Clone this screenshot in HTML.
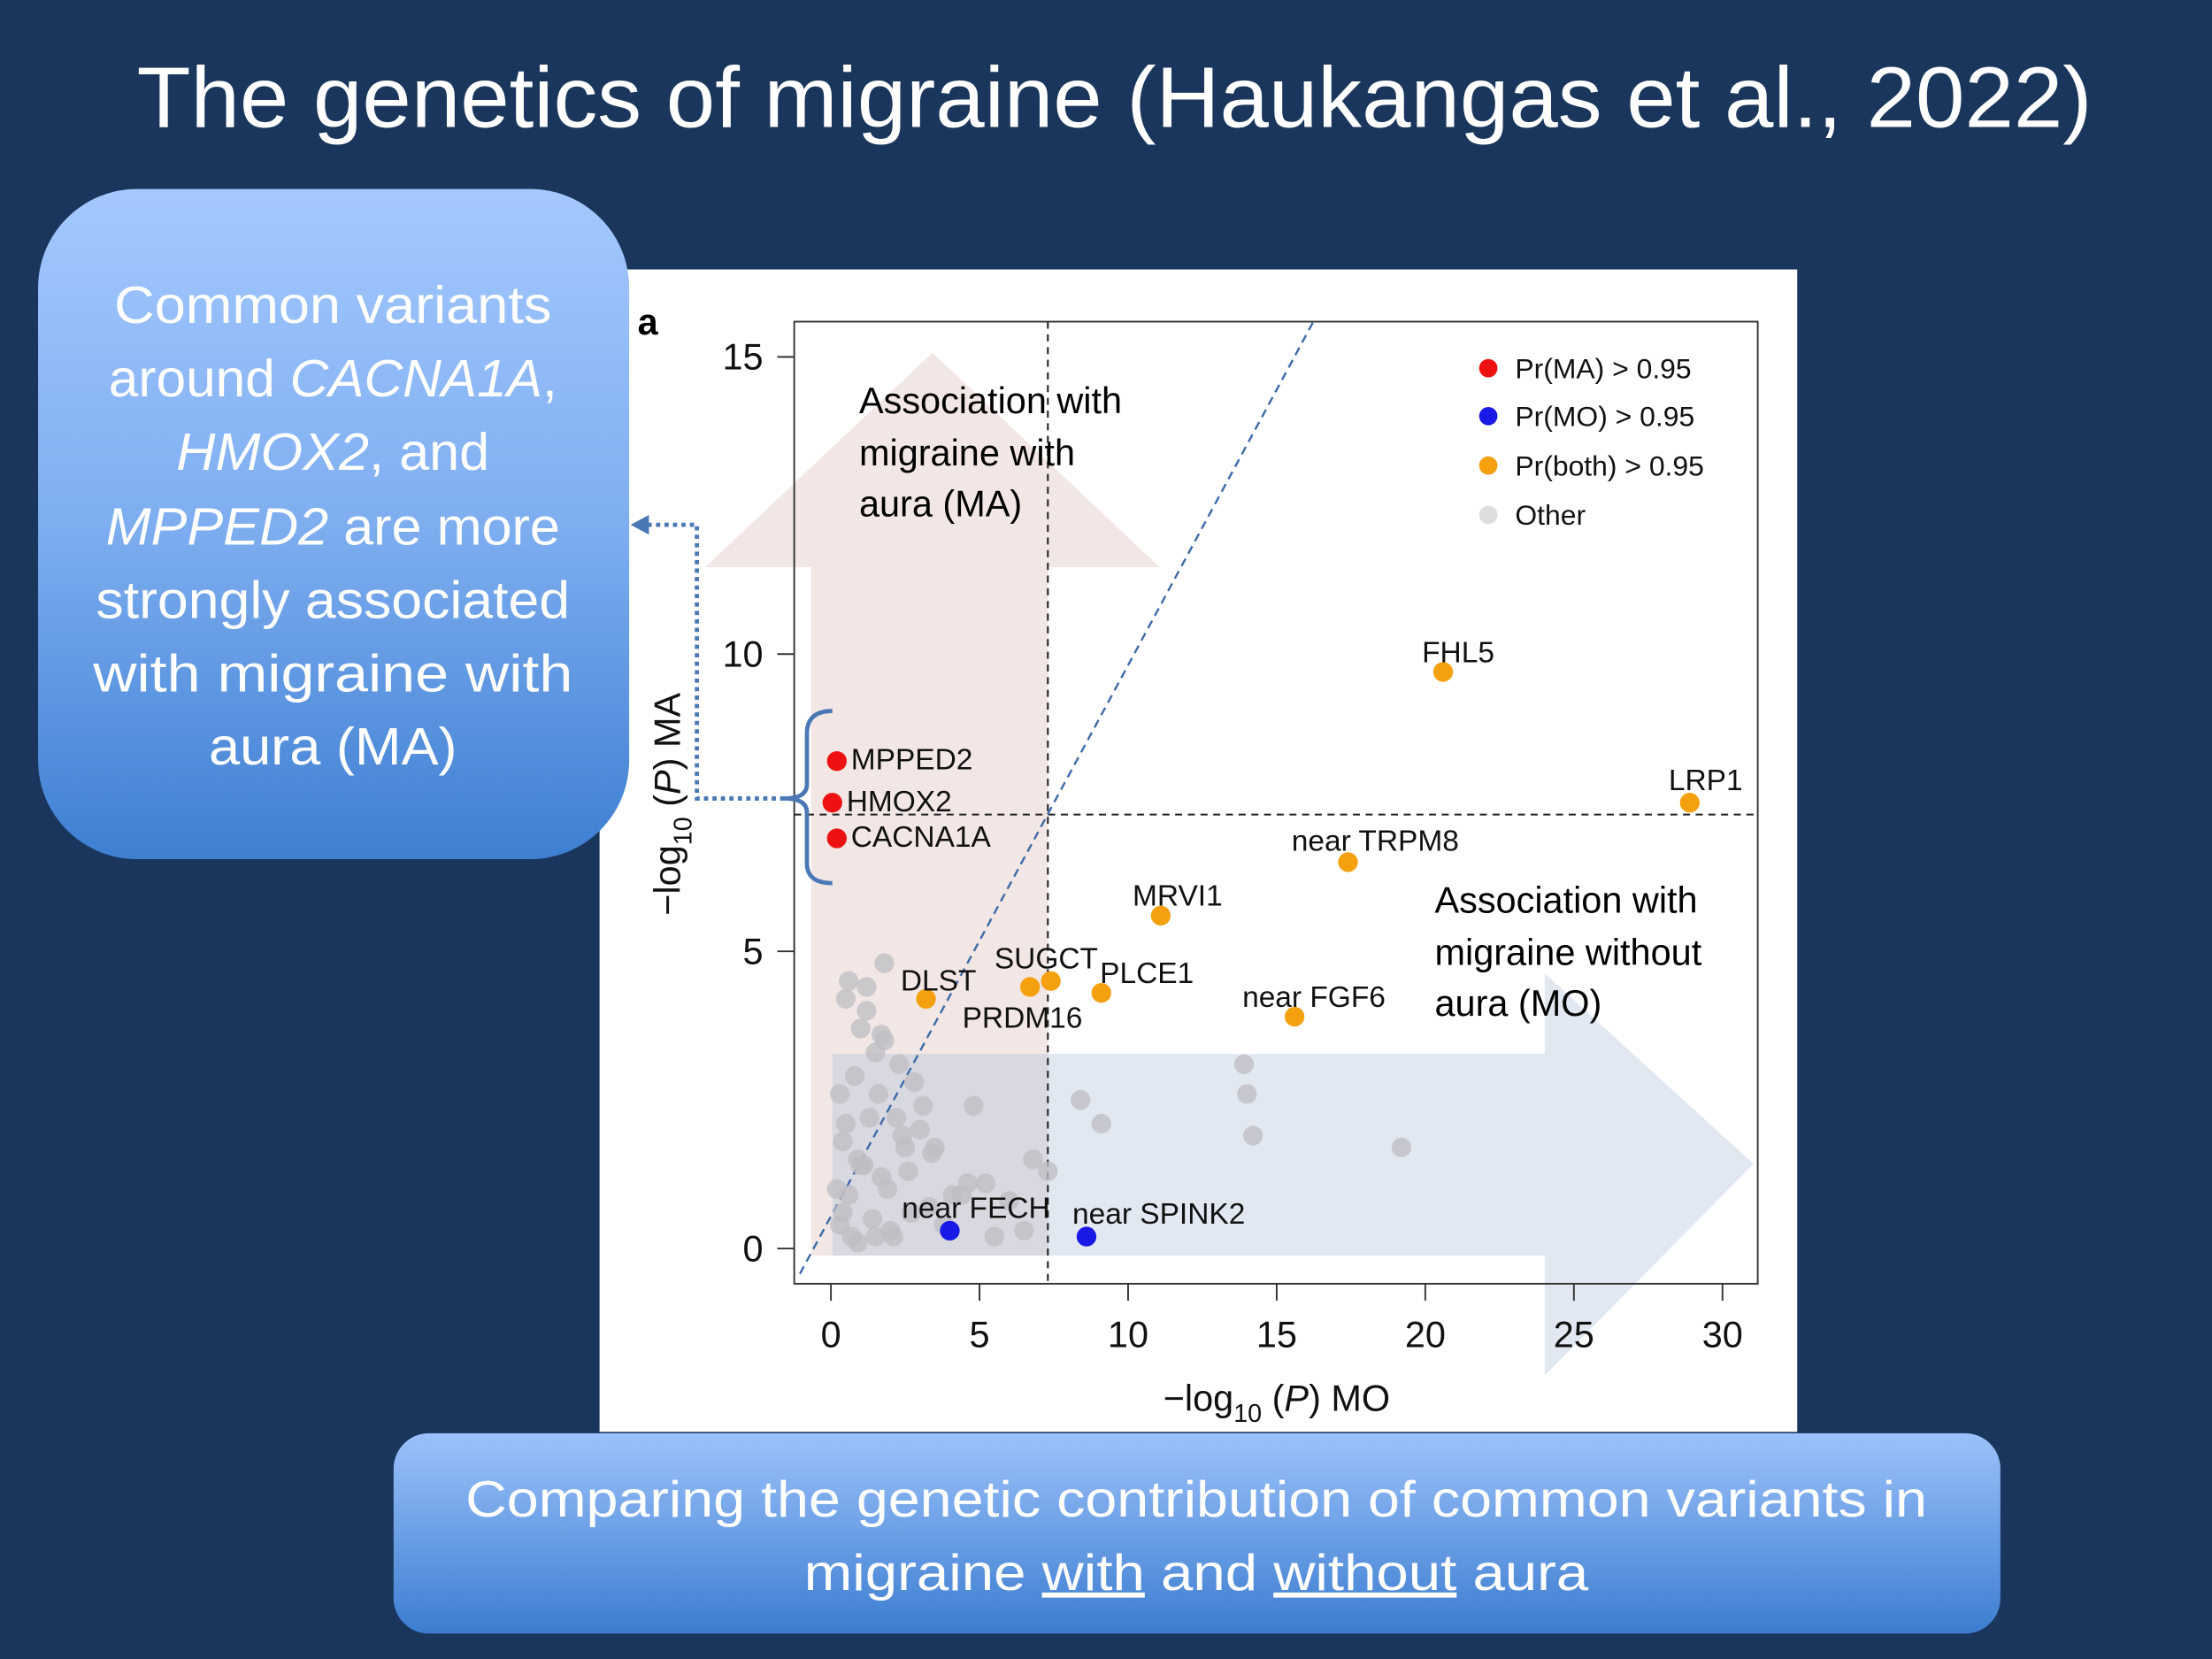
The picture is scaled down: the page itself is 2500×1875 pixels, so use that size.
<!DOCTYPE html>
<html><head><meta charset="utf-8"><style>
html,body{margin:0;padding:0;background:#1a365c;}
svg{display:block}
.t{font-family:"Liberation Sans",sans-serif;}
</style></head><body>
<svg id="s" width="2500" height="1875" viewBox="0 0 1568 1176" xmlns="http://www.w3.org/2000/svg">
<defs>
<linearGradient id="cg" x1="0" y1="0" x2="0" y2="1"><stop offset="0" stop-color="#a4c8ff"/><stop offset="0.5" stop-color="#7eaef0"/><stop offset="1" stop-color="#3e7fd2"/></linearGradient>
<linearGradient id="bg2" x1="0" y1="0" x2="0" y2="1"><stop offset="0" stop-color="#9cc2fb"/><stop offset="1" stop-color="#3c7dd0"/></linearGradient>
</defs>
<rect width="1568" height="1176" fill="#1a365c"/>
<text class="t" x="790" y="90" text-anchor="middle" font-size="61" fill="#fff" textLength="1386" lengthAdjust="spacingAndGlyphs">The genetics of migraine (Haukangas et al., 2022)</text>
<rect x="425" y="191" width="849" height="824" fill="#fff"/>
<text class="t" x="452" y="237" font-size="26" font-weight="bold" fill="#000">a</text>
<g id="arrows">
<path d="M575,890 L575,402 L500,402 L661,250 L822,402 L743,402 L743,890 Z" fill="rgba(205,160,150,0.25)"/>
<path d="M590,747 L1095,747 L1095,690 L1243,825 L1095,975 L1095,890 L590,890 Z" fill="rgba(170,188,215,0.35)"/>
</g>
<rect x="563" y="228" width="683" height="682" fill="none" stroke="#333" stroke-width="1.2"/>
<g id="axes"></g>
<g id="pts"></g>
<g id="legend" class="t" font-size="20" fill="#111">
<circle cx="1055" cy="261" r="6.5" fill="#ee1111"/><text x="1074" y="268">Pr(MA) &gt; 0.95</text>
<circle cx="1055" cy="295" r="6.5" fill="#1a1ae6"/><text x="1074" y="302">Pr(MO) &gt; 0.95</text>
<circle cx="1055" cy="330" r="6.5" fill="#f5a00f"/><text x="1074" y="337">Pr(both) &gt; 0.95</text>
<circle cx="1055" cy="365" r="6.5" fill="#dedede"/><text x="1074" y="372">Other</text>
</g>
<g class="t" font-size="26" fill="#000">
<text><tspan x="609" y="293">Association with</tspan><tspan x="609" y="330">migraine with</tspan><tspan x="609" y="366">aura (MA)</tspan></text>
<text><tspan x="1017" y="647">Association with</tspan><tspan x="1017" y="684">migraine without</tspan><tspan x="1017" y="720">aura (MO)</tspan></text>
</g>
<path d="M590,504 Q572,504 572,520 L572,556 Q572,566 556,566 Q572,566 572,576 L572,612 Q572,626 590,626" fill="none" stroke="#4a78b5" stroke-width="3"/>
<path d="M556,566 L494,566 L494,372 L458,372" fill="none" stroke="#4a78b5" stroke-width="3" stroke-dasharray="3,3"/>
<path d="M447,372 L460,365 L460,379 Z" fill="#4a78b5"/>
<rect x="27" y="134" width="419" height="475" rx="70" fill="url(#cg)"/>
<g class="t" font-size="37" fill="#fff" text-anchor="middle">
<text x="236" y="229" textLength="310" lengthAdjust="spacingAndGlyphs">Common variants</text>
<text x="236" y="281" textLength="318" lengthAdjust="spacingAndGlyphs">around <tspan font-style="italic">CACNA1A</tspan>,</text>
<text x="236" y="333" textLength="222" lengthAdjust="spacingAndGlyphs"><tspan font-style="italic">HMOX2</tspan>, and</text>
<text x="236" y="386" textLength="322" lengthAdjust="spacingAndGlyphs"><tspan font-style="italic">MPPED2</tspan> are more</text>
<text x="236" y="438" textLength="336" lengthAdjust="spacingAndGlyphs">strongly associated</text>
<text x="236" y="490" textLength="340" lengthAdjust="spacingAndGlyphs">with  migraine with</text>
<text x="236" y="542" textLength="176" lengthAdjust="spacingAndGlyphs">aura (MA)</text>
</g>
<rect x="279" y="1016" width="1139" height="142" rx="25" fill="url(#bg2)"/>
<g class="t" font-size="36" fill="#fff" text-anchor="middle">
<text x="848" y="1075" textLength="1036" lengthAdjust="spacingAndGlyphs">Comparing the genetic contribution of common variants in</text>
<text x="848" y="1127" textLength="556" lengthAdjust="spacingAndGlyphs">migraine <tspan text-decoration="underline">with</tspan> and <tspan text-decoration="underline">without</tspan> aura</text>
</g>
</svg>
<script>
const xTicks=[0,5,10,15,20,25,30];
const yTicks=[0,5,10,15];
const threshold=7.3;
const grayX=[0.5,1.2,1.8,0.3,0.8,1.5,2.2,2.8,0.4,0.9,1.3,1.7,2.4,3.0,3.5,0.2,0.6,1.1,1.9,2.6,3.3,4.1,4.6,0.3,0.7,1.4,2.0,2.7,3.8,5.2,6.0,0.5,1.0,1.6,2.3,3.1,4.4,5.5,6.5,0.4,0.9,1.5,2.1,3.4,4.8,6.8,7.3,1.0,1.7,2.5,0.6,1.2,8.4,9.1,13.9,14.0,14.2,19.2,1.8];
const grayY=[4.2,4.0,3.5,2.6,2.9,3.3,2.2,2.8,1.8,1.5,2.2,1.2,1.9,2.0,1.7,1.0,0.9,1.4,1.0,1.3,0.7,0.9,1.1,0.4,0.2,0.5,0.3,0.6,0.4,1.1,0.8,2.1,1.4,2.6,3.1,2.4,0.9,0.2,0.3,0.6,0.1,0.2,0.2,1.6,2.4,1.5,1.3,3.7,3.6,1.7,4.5,4.4,2.5,2.1,3.1,2.6,1.9,1.7,4.8];
const sigNames=["MPPED2","HMOX2","CACNA1A","near FECH","near SPINK2","FHL5","LRP1","near TRPM8","MRVI1","near FGF6","PLCE1","SUGCT","PRDM16","DLST"];
const sigX=[0.2,0.05,0.2,4.0,8.6,20.6,28.9,17.4,11.1,15.6,9.1,7.4,6.7,3.2];
const sigY=[8.2,7.5,6.9,0.3,0.2,9.7,7.5,6.5,5.6,3.9,4.3,4.5,4.4,4.2];
const sigClass=["MA","MA","MA","MO","MO","both","both","both","both","both","both","both","both","both"];
const labelDX=[10,10,10,-34,-10,-15,-15,-40,-20,-37,-1,-40,-48,-18];
const labelDY=[-1,-1,-1,-16,-16,-14,-16,-15,-14,-14,-14,-16,22,-13];

const X=v=>589+v*(1221-589)/30, Y=v=>885-v*(885-253)/15;
const NS="http://www.w3.org/2000/svg";
function mk(tag,attrs,parent,txt){const e=document.createElementNS(NS,tag);for(const k in attrs)e.setAttribute(k,attrs[k]);if(txt!==undefined)e.textContent=txt;parent.appendChild(e);return e;}
const ax=document.getElementById('axes'), pts=document.getElementById('pts');
xTicks.forEach(t=>{
  mk('line',{x1:X(t),x2:X(t),y1:910,y2:922,stroke:'#333','stroke-width':1.2},ax);
  const e=mk('text',{x:X(t),y:955,'text-anchor':'middle','font-size':26,'font-family':'Liberation Sans,sans-serif',fill:'#111'},ax,String(t));
  
  
});
yTicks.forEach(t=>{
  mk('line',{x1:551,x2:563,y1:Y(t),y2:Y(t),stroke:'#333','stroke-width':1.2},ax);
  const e=mk('text',{x:541,y:Y(t)+9,'text-anchor':'end','font-size':26,'font-family':'Liberation Sans,sans-serif',fill:'#111'},ax,String(t));
  
  
});
const xt=mk('text',{x:905,y:1000,'text-anchor':'middle','font-size':26,'font-family':'Liberation Sans,sans-serif',fill:'#111'},ax);
xt.innerHTML='\u2212log<tspan font-size="18" dy="8">10</tspan><tspan dy="-8"> (</tspan><tspan font-style="italic">P</tspan>) MO';


const yt=mk('text',{x:0,y:0,transform:'translate(482,570) rotate(-90)','text-anchor':'middle','font-size':26,'font-family':'Liberation Sans,sans-serif',fill:'#111'},ax);
yt.innerHTML='\u2212log<tspan font-size="18" dy="8">10</tspan><tspan dy="-8"> (</tspan><tspan font-style="italic">P</tspan>) MA';


const th=mk('line',{x1:X(threshold),x2:X(threshold),y1:228,y2:910,stroke:'#222','stroke-width':1.3,'stroke-dasharray':'5,4'},ax);


const th2=mk('line',{x1:563,x2:1246,y1:Y(threshold),y2:Y(threshold),stroke:'#222','stroke-width':1.3,'stroke-dasharray':'5,4'},ax);


const dl=mk('line',{x1:567,y1:903,x2:931,y2:228,stroke:'#3c6aa8','stroke-width':1.5,'stroke-dasharray':'6,4'},ax);


grayX.forEach((v,i)=>{
  const c=mk('circle',{cx:X(v),cy:Y(grayY[i]),r:7,fill:'rgba(190,190,195,0.75)'},pts);
  
  
});
const col={MA:'#ee1111',MO:'#1a1ae6',both:'#f5a00f'};
sigNames.forEach((n,i)=>{
  const c=mk('circle',{cx:X(sigX[i]),cy:Y(sigY[i]),r:7,fill:col[sigClass[i]]},pts);
  
  
  const t=mk('text',{x:X(sigX[i])+labelDX[i],y:Y(sigY[i])+labelDY[i]+7,'font-size':21,'font-family':'Liberation Sans,sans-serif',fill:'#111'},pts,n);
  
  
});
</script>
</body></html>
